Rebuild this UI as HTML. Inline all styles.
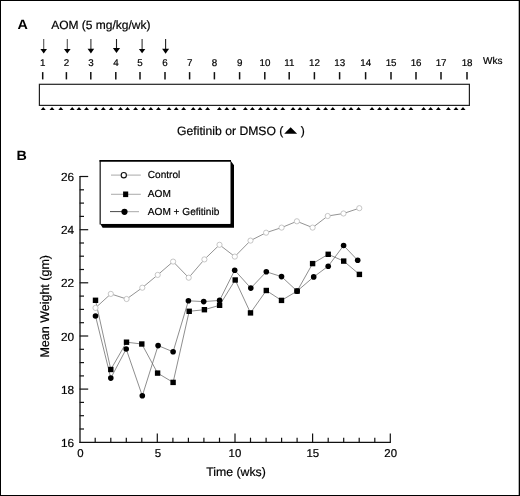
<!DOCTYPE html>
<html><head><meta charset="utf-8"><title>Figure</title>
<style>html,body{margin:0;padding:0;background:#fff;}body{width:520px;height:496px;overflow:hidden;}svg{display:block;}text{text-rendering:geometricPrecision;font-family:"Liberation Sans", Arial, sans-serif;fill:#000;stroke:#000;stroke-width:0.2px;}text.b{stroke:none;}</style>
</head><body>
<svg width="520" height="496" viewBox="0 0 520 496">
<rect x="0" y="0" width="520" height="496" fill="#fff"/>
<rect x="0.5" y="0.5" width="519" height="495" fill="none" stroke="#000" stroke-width="1"/>
<line x1="519.35" y1="0" x2="519.35" y2="496" stroke="#000" stroke-width="1.3"/>
<text transform="translate(17.5,28.9) scale(1.06,1)" class="b" font-size="13.5" font-weight="bold">A</text>
<text x="51.2" y="28.7" font-size="12">AOM (5 mg/kg/wk)</text>
<line x1="43.7" y1="39.0" x2="43.7" y2="49.4" stroke="#555" stroke-width="1.1"/>
<polygon points="40.4,48.9 47.0,48.9 43.7,53.4" fill="#000"/>
<line x1="67.3" y1="39.0" x2="67.3" y2="49.4" stroke="#555" stroke-width="1.1"/>
<polygon points="64.0,48.9 70.6,48.9 67.3,53.4" fill="#000"/>
<line x1="90.9" y1="39.0" x2="90.9" y2="49.3" stroke="#333" stroke-width="1.1"/>
<polygon points="87.6,48.8 94.2,48.8 90.9,53.4" fill="#000"/>
<line x1="116.5" y1="39.0" x2="116.5" y2="48.6" stroke="#222" stroke-width="1.1"/>
<polygon points="112.9,48.1 120.1,48.1 116.5,53.0" fill="#000"/>
<line x1="142.1" y1="39.0" x2="142.1" y2="49.4" stroke="#333" stroke-width="1.1"/>
<polygon points="138.9,48.9 145.3,48.9 142.1,53.3" fill="#000"/>
<line x1="165.6" y1="39.0" x2="165.6" y2="49.3" stroke="#222" stroke-width="1.1"/>
<polygon points="162.1,48.8 169.1,48.8 165.6,53.7" fill="#000"/>
<line x1="42.7" y1="72.1" x2="42.7" y2="79.4" stroke="#111" stroke-width="1.5"/>
<text x="42.8" y="65.9" font-size="9.8" text-anchor="middle">1</text>
<line x1="66.4" y1="72.1" x2="66.4" y2="79.4" stroke="#111" stroke-width="1.5"/>
<text x="66.5" y="65.9" font-size="9.8" text-anchor="middle">2</text>
<line x1="90.8" y1="72.1" x2="90.8" y2="79.4" stroke="#111" stroke-width="1.5"/>
<text x="90.9" y="65.9" font-size="9.8" text-anchor="middle">3</text>
<line x1="115.8" y1="72.1" x2="115.8" y2="79.4" stroke="#111" stroke-width="1.5"/>
<text x="115.9" y="65.9" font-size="9.8" text-anchor="middle">4</text>
<line x1="140.0" y1="72.1" x2="140.0" y2="79.4" stroke="#111" stroke-width="1.5"/>
<text x="140.1" y="65.9" font-size="9.8" text-anchor="middle">5</text>
<line x1="165.0" y1="72.1" x2="165.0" y2="79.4" stroke="#111" stroke-width="1.5"/>
<text x="165.1" y="65.9" font-size="9.8" text-anchor="middle">6</text>
<line x1="189.6" y1="72.1" x2="189.6" y2="79.4" stroke="#111" stroke-width="1.5"/>
<text x="189.7" y="65.9" font-size="9.8" text-anchor="middle">7</text>
<line x1="214.4" y1="72.1" x2="214.4" y2="79.4" stroke="#111" stroke-width="1.5"/>
<text x="214.5" y="65.9" font-size="9.8" text-anchor="middle">8</text>
<line x1="239.6" y1="72.1" x2="239.6" y2="79.4" stroke="#111" stroke-width="1.5"/>
<text x="239.7" y="65.9" font-size="9.8" text-anchor="middle">9</text>
<line x1="264.8" y1="72.1" x2="264.8" y2="79.4" stroke="#111" stroke-width="1.5"/>
<text x="264.9" y="65.9" font-size="9.8" text-anchor="middle">10</text>
<line x1="289.2" y1="72.1" x2="289.2" y2="79.4" stroke="#111" stroke-width="1.5"/>
<text x="289.3" y="65.9" font-size="9.8" text-anchor="middle">11</text>
<line x1="314.4" y1="72.1" x2="314.4" y2="79.4" stroke="#111" stroke-width="1.5"/>
<text x="314.5" y="65.9" font-size="9.8" text-anchor="middle">12</text>
<line x1="339.6" y1="72.1" x2="339.6" y2="79.4" stroke="#111" stroke-width="1.5"/>
<text x="339.7" y="65.9" font-size="9.8" text-anchor="middle">13</text>
<line x1="365.6" y1="72.1" x2="365.6" y2="79.4" stroke="#111" stroke-width="1.5"/>
<text x="365.7" y="65.9" font-size="9.8" text-anchor="middle">14</text>
<line x1="391.0" y1="72.1" x2="391.0" y2="79.4" stroke="#111" stroke-width="1.5"/>
<text x="391.1" y="65.9" font-size="9.8" text-anchor="middle">15</text>
<line x1="416.0" y1="72.1" x2="416.0" y2="79.4" stroke="#111" stroke-width="1.5"/>
<text x="416.1" y="65.9" font-size="9.8" text-anchor="middle">16</text>
<line x1="441.0" y1="72.1" x2="441.0" y2="79.4" stroke="#111" stroke-width="1.5"/>
<text x="441.1" y="65.9" font-size="9.8" text-anchor="middle">17</text>
<line x1="467.0" y1="72.1" x2="467.0" y2="79.4" stroke="#111" stroke-width="1.5"/>
<text x="467.1" y="65.9" font-size="9.8" text-anchor="middle">18</text>
<text x="483" y="63.7" font-size="10">Wks</text>
<rect x="39.4" y="84.3" width="430" height="21.1" fill="#fff" stroke="#222" stroke-width="1.2"/>
<polygon points="40.7,110 45.7,110 43.2,107" fill="#000"/>
<polygon points="49.5,110 54.5,110 52.0,107" fill="#000"/>
<polygon points="58.3,110 63.3,110 60.8,107" fill="#000"/>
<polygon points="69.7,110 74.7,110 72.2,107" fill="#000"/>
<polygon points="76.5,110 81.5,110 79.0,107" fill="#000"/>
<polygon points="84.0,110 89.0,110 86.5,107" fill="#000"/>
<polygon points="93.5,110 98.5,110 96.0,107" fill="#000"/>
<polygon points="100.8,110 105.8,110 103.3,107" fill="#000"/>
<polygon points="108.7,110 113.7,110 111.2,107" fill="#000"/>
<polygon points="118.0,110 123.0,110 120.5,107" fill="#000"/>
<polygon points="125.0,110 130.0,110 127.5,107" fill="#000"/>
<polygon points="133.1,110 138.1,110 135.6,107" fill="#000"/>
<polygon points="140.9,110 145.9,110 143.4,107" fill="#000"/>
<polygon points="148.3,110 153.3,110 150.8,107" fill="#000"/>
<polygon points="156.0,110 161.0,110 158.5,107" fill="#000"/>
<polygon points="166.5,110 171.5,110 169.0,107" fill="#000"/>
<polygon points="173.7,110 178.7,110 176.2,107" fill="#000"/>
<polygon points="181.1,110 186.1,110 183.6,107" fill="#000"/>
<polygon points="190.7,110 195.7,110 193.2,107" fill="#000"/>
<polygon points="197.5,110 202.5,110 200.0,107" fill="#000"/>
<polygon points="205.1,110 210.1,110 207.6,107" fill="#000"/>
<polygon points="216.9,110 221.9,110 219.4,107" fill="#000"/>
<polygon points="224.3,110 229.3,110 226.8,107" fill="#000"/>
<polygon points="231.5,110 236.5,110 234.0,107" fill="#000"/>
<polygon points="242.9,110 247.9,110 245.4,107" fill="#000"/>
<polygon points="249.9,110 254.9,110 252.4,107" fill="#000"/>
<polygon points="257.9,110 262.9,110 260.4,107" fill="#000"/>
<polygon points="265.5,110 270.5,110 268.0,107" fill="#000"/>
<polygon points="272.9,110 277.9,110 275.4,107" fill="#000"/>
<polygon points="280.3,110 285.3,110 282.8,107" fill="#000"/>
<polygon points="290.5,110 295.5,110 293.0,107" fill="#000"/>
<polygon points="297.5,110 302.5,110 300.0,107" fill="#000"/>
<polygon points="305.3,110 310.3,110 307.8,107" fill="#000"/>
<polygon points="315.7,110 320.7,110 318.2,107" fill="#000"/>
<polygon points="323.1,110 328.1,110 325.6,107" fill="#000"/>
<polygon points="330.3,110 335.3,110 332.8,107" fill="#000"/>
<polygon points="341.5,110 346.5,110 344.0,107" fill="#000"/>
<polygon points="348.5,110 353.5,110 351.0,107" fill="#000"/>
<polygon points="356.1,110 361.1,110 358.6,107" fill="#000"/>
<polygon points="369.5,110 374.5,110 372.0,107" fill="#000"/>
<polygon points="377.1,110 382.1,110 379.6,107" fill="#000"/>
<polygon points="384.9,110 389.9,110 387.4,107" fill="#000"/>
<polygon points="393.5,110 398.5,110 396.0,107" fill="#000"/>
<polygon points="400.5,110 405.5,110 403.0,107" fill="#000"/>
<polygon points="408.4,110 413.4,110 410.9,107" fill="#000"/>
<polygon points="421.1,110 426.1,110 423.6,107" fill="#000"/>
<polygon points="428.1,110 433.1,110 430.6,107" fill="#000"/>
<polygon points="435.9,110 440.9,110 438.4,107" fill="#000"/>
<polygon points="445.9,110 450.9,110 448.4,107" fill="#000"/>
<polygon points="453.5,110 458.5,110 456.0,107" fill="#000"/>
<polygon points="460.5,110 465.5,110 463.0,107" fill="#000"/>
<text x="177.1" y="134.8" font-size="12.2">Gefitinib or DMSO (</text>
<polygon points="284.2,133.7 297.1,133.7 290.6,127.2" fill="#000"/>
<text x="300.8" y="134.8" font-size="12.2">)</text>
<text transform="translate(16.6,160.4) scale(1.06,1)" class="b" font-size="13.5" font-weight="bold">B</text>
<line x1="80.0" y1="175.9" x2="80.0" y2="442.9" stroke="#111" stroke-width="1.3"/>
<line x1="79.4" y1="442.3" x2="390.9" y2="442.3" stroke="#111" stroke-width="1.3"/>
<text x="74.2" y="446.8" font-size="11.8" text-anchor="end">16</text>
<line x1="79.7" y1="429.0" x2="84.0" y2="429.0" stroke="#111" stroke-width="1.2"/>
<line x1="79.7" y1="415.7" x2="84.0" y2="415.7" stroke="#111" stroke-width="1.2"/>
<line x1="79.7" y1="402.4" x2="84.0" y2="402.4" stroke="#111" stroke-width="1.2"/>
<line x1="79.7" y1="389.1" x2="88.2" y2="389.1" stroke="#111" stroke-width="1.2"/>
<text x="74.2" y="393.6" font-size="11.8" text-anchor="end">18</text>
<line x1="79.7" y1="375.9" x2="84.0" y2="375.9" stroke="#111" stroke-width="1.2"/>
<line x1="79.7" y1="362.6" x2="84.0" y2="362.6" stroke="#111" stroke-width="1.2"/>
<line x1="79.7" y1="349.3" x2="84.0" y2="349.3" stroke="#111" stroke-width="1.2"/>
<line x1="79.7" y1="336.0" x2="88.2" y2="336.0" stroke="#111" stroke-width="1.2"/>
<text x="74.2" y="340.5" font-size="11.8" text-anchor="end">20</text>
<line x1="79.7" y1="322.7" x2="84.0" y2="322.7" stroke="#111" stroke-width="1.2"/>
<line x1="79.7" y1="309.4" x2="84.0" y2="309.4" stroke="#111" stroke-width="1.2"/>
<line x1="79.7" y1="296.1" x2="84.0" y2="296.1" stroke="#111" stroke-width="1.2"/>
<line x1="79.7" y1="282.8" x2="88.2" y2="282.8" stroke="#111" stroke-width="1.2"/>
<text x="74.2" y="287.3" font-size="11.8" text-anchor="end">22</text>
<line x1="79.7" y1="269.5" x2="84.0" y2="269.5" stroke="#111" stroke-width="1.2"/>
<line x1="79.7" y1="256.2" x2="84.0" y2="256.2" stroke="#111" stroke-width="1.2"/>
<line x1="79.7" y1="243.0" x2="84.0" y2="243.0" stroke="#111" stroke-width="1.2"/>
<line x1="79.7" y1="229.7" x2="88.2" y2="229.7" stroke="#111" stroke-width="1.2"/>
<text x="74.2" y="234.2" font-size="11.8" text-anchor="end">24</text>
<line x1="79.7" y1="216.4" x2="84.0" y2="216.4" stroke="#111" stroke-width="1.2"/>
<line x1="79.7" y1="203.1" x2="84.0" y2="203.1" stroke="#111" stroke-width="1.2"/>
<line x1="79.7" y1="189.8" x2="84.0" y2="189.8" stroke="#111" stroke-width="1.2"/>
<line x1="79.7" y1="176.5" x2="88.2" y2="176.5" stroke="#111" stroke-width="1.2"/>
<text x="74.2" y="181.0" font-size="11.8" text-anchor="end">26</text>
<text x="80.4" y="456.7" font-size="11.4" text-anchor="middle">0</text>
<line x1="95.2" y1="442.3" x2="95.2" y2="437.7" stroke="#111" stroke-width="1.2"/>
<line x1="110.8" y1="442.3" x2="110.8" y2="437.7" stroke="#111" stroke-width="1.2"/>
<line x1="126.3" y1="442.3" x2="126.3" y2="437.7" stroke="#111" stroke-width="1.2"/>
<line x1="141.8" y1="442.3" x2="141.8" y2="437.7" stroke="#111" stroke-width="1.2"/>
<line x1="157.3" y1="442.3" x2="157.3" y2="433.5" stroke="#111" stroke-width="1.2"/>
<text x="158.0" y="456.7" font-size="11.4" text-anchor="middle">5</text>
<line x1="172.9" y1="442.3" x2="172.9" y2="437.7" stroke="#111" stroke-width="1.2"/>
<line x1="188.4" y1="442.3" x2="188.4" y2="437.7" stroke="#111" stroke-width="1.2"/>
<line x1="203.9" y1="442.3" x2="203.9" y2="437.7" stroke="#111" stroke-width="1.2"/>
<line x1="219.5" y1="442.3" x2="219.5" y2="437.7" stroke="#111" stroke-width="1.2"/>
<line x1="235.0" y1="442.3" x2="235.0" y2="433.5" stroke="#111" stroke-width="1.2"/>
<text x="234.9" y="456.7" font-size="11.4" text-anchor="middle">10</text>
<line x1="250.5" y1="442.3" x2="250.5" y2="437.7" stroke="#111" stroke-width="1.2"/>
<line x1="266.1" y1="442.3" x2="266.1" y2="437.7" stroke="#111" stroke-width="1.2"/>
<line x1="281.6" y1="442.3" x2="281.6" y2="437.7" stroke="#111" stroke-width="1.2"/>
<line x1="297.1" y1="442.3" x2="297.1" y2="437.7" stroke="#111" stroke-width="1.2"/>
<line x1="312.6" y1="442.3" x2="312.6" y2="433.5" stroke="#111" stroke-width="1.2"/>
<text x="312.8" y="456.7" font-size="11.4" text-anchor="middle">15</text>
<line x1="328.2" y1="442.3" x2="328.2" y2="437.7" stroke="#111" stroke-width="1.2"/>
<line x1="343.7" y1="442.3" x2="343.7" y2="437.7" stroke="#111" stroke-width="1.2"/>
<line x1="359.2" y1="442.3" x2="359.2" y2="437.7" stroke="#111" stroke-width="1.2"/>
<line x1="374.8" y1="442.3" x2="374.8" y2="437.7" stroke="#111" stroke-width="1.2"/>
<line x1="390.3" y1="442.3" x2="390.3" y2="433.5" stroke="#111" stroke-width="1.2"/>
<text x="390.7" y="456.7" font-size="11.4" text-anchor="middle">20</text>
<text x="206.2" y="475.8" font-size="12.3">Time (wks)</text>
<text transform="translate(48.5,357.6) rotate(-90)" font-size="12.5">Mean Weight (gm)</text>
<polyline fill="none" stroke="#808080" stroke-width="0.85" points="95.5,307.9 110.8,293.9 126.6,299.0 142.3,287.7 157.7,274.9 173.1,261.6 188.7,277.7 204.4,259.4 219.5,244.8 234.8,256.6 250.5,240.6 266.1,232.7 281.6,227.6 296.9,221.3 312.6,227.6 327.7,216.0 343.5,213.5 359.3,208.2"/>
<polyline fill="none" stroke="#686868" stroke-width="0.75" points="95.5,316.0 110.8,378.1 126.2,349.0 142.3,395.8 158.1,345.6 173.1,351.8 188.4,300.8 203.7,301.6 219.6,300.4 234.7,270.2 250.8,288.1 266.3,271.8 281.5,276.6 297.1,291.1 313.7,276.9 328.2,266.2 343.6,245.5 357.7,260.3"/>
<polyline fill="none" stroke="#686868" stroke-width="0.75" points="95.5,300.3 110.8,369.5 126.5,342.2 141.8,344.0 157.6,373.1 173.1,382.4 189.2,311.3 204.4,309.7 219.6,305.3 235.2,280.0 250.5,312.9 266.3,290.5 281.5,300.4 297.1,291.1 312.6,263.6 328.2,254.3 343.7,261.1 359.4,274.4"/>
<circle cx="95.5" cy="307.9" r="2.6" fill="#fff" stroke="#bcbcbc" stroke-width="0.85"/>
<circle cx="110.8" cy="293.9" r="2.6" fill="#fff" stroke="#bcbcbc" stroke-width="0.85"/>
<circle cx="126.6" cy="299.0" r="2.6" fill="#fff" stroke="#bcbcbc" stroke-width="0.85"/>
<circle cx="142.3" cy="287.7" r="2.6" fill="#fff" stroke="#bcbcbc" stroke-width="0.85"/>
<circle cx="157.7" cy="274.9" r="2.6" fill="#fff" stroke="#bcbcbc" stroke-width="0.85"/>
<circle cx="173.1" cy="261.6" r="2.6" fill="#fff" stroke="#bcbcbc" stroke-width="0.85"/>
<circle cx="188.7" cy="277.7" r="2.6" fill="#fff" stroke="#bcbcbc" stroke-width="0.85"/>
<circle cx="204.4" cy="259.4" r="2.6" fill="#fff" stroke="#bcbcbc" stroke-width="0.85"/>
<circle cx="219.5" cy="244.8" r="2.6" fill="#fff" stroke="#bcbcbc" stroke-width="0.85"/>
<circle cx="234.8" cy="256.6" r="2.6" fill="#fff" stroke="#bcbcbc" stroke-width="0.85"/>
<circle cx="250.5" cy="240.6" r="2.6" fill="#fff" stroke="#bcbcbc" stroke-width="0.85"/>
<circle cx="266.1" cy="232.7" r="2.6" fill="#fff" stroke="#bcbcbc" stroke-width="0.85"/>
<circle cx="281.6" cy="227.6" r="2.6" fill="#fff" stroke="#bcbcbc" stroke-width="0.85"/>
<circle cx="296.9" cy="221.3" r="2.6" fill="#fff" stroke="#bcbcbc" stroke-width="0.85"/>
<circle cx="312.6" cy="227.6" r="2.6" fill="#fff" stroke="#bcbcbc" stroke-width="0.85"/>
<circle cx="327.7" cy="216.0" r="2.6" fill="#fff" stroke="#bcbcbc" stroke-width="0.85"/>
<circle cx="343.5" cy="213.5" r="2.6" fill="#fff" stroke="#bcbcbc" stroke-width="0.85"/>
<circle cx="359.3" cy="208.2" r="2.6" fill="#fff" stroke="#bcbcbc" stroke-width="0.85"/>
<circle cx="95.5" cy="316.0" r="2.8" fill="#000"/>
<circle cx="110.8" cy="378.1" r="2.8" fill="#000"/>
<circle cx="126.2" cy="349.0" r="2.8" fill="#000"/>
<circle cx="142.3" cy="395.8" r="2.8" fill="#000"/>
<circle cx="158.1" cy="345.6" r="2.8" fill="#000"/>
<circle cx="173.1" cy="351.8" r="2.8" fill="#000"/>
<circle cx="188.4" cy="300.8" r="2.8" fill="#000"/>
<circle cx="203.7" cy="301.6" r="2.8" fill="#000"/>
<circle cx="219.6" cy="300.4" r="2.8" fill="#000"/>
<circle cx="234.7" cy="270.2" r="2.8" fill="#000"/>
<circle cx="250.8" cy="288.1" r="2.8" fill="#000"/>
<circle cx="266.3" cy="271.8" r="2.8" fill="#000"/>
<circle cx="281.5" cy="276.6" r="2.8" fill="#000"/>
<circle cx="297.1" cy="291.1" r="2.8" fill="#000"/>
<circle cx="313.7" cy="276.9" r="2.8" fill="#000"/>
<circle cx="328.2" cy="266.2" r="2.8" fill="#000"/>
<circle cx="343.6" cy="245.5" r="2.8" fill="#000"/>
<circle cx="357.7" cy="260.3" r="2.8" fill="#000"/>
<rect x="92.8" y="297.6" width="5.4" height="5.4" fill="#000"/>
<rect x="108.1" y="366.8" width="5.4" height="5.4" fill="#000"/>
<rect x="123.8" y="339.5" width="5.4" height="5.4" fill="#000"/>
<rect x="139.1" y="341.3" width="5.4" height="5.4" fill="#000"/>
<rect x="154.9" y="370.4" width="5.4" height="5.4" fill="#000"/>
<rect x="170.4" y="379.7" width="5.4" height="5.4" fill="#000"/>
<rect x="186.5" y="308.6" width="5.4" height="5.4" fill="#000"/>
<rect x="201.7" y="307.0" width="5.4" height="5.4" fill="#000"/>
<rect x="216.9" y="302.6" width="5.4" height="5.4" fill="#000"/>
<rect x="232.5" y="277.3" width="5.4" height="5.4" fill="#000"/>
<rect x="247.8" y="310.2" width="5.4" height="5.4" fill="#000"/>
<rect x="263.6" y="287.8" width="5.4" height="5.4" fill="#000"/>
<rect x="278.8" y="297.7" width="5.4" height="5.4" fill="#000"/>
<rect x="294.4" y="288.4" width="5.4" height="5.4" fill="#000"/>
<rect x="309.9" y="260.9" width="5.4" height="5.4" fill="#000"/>
<rect x="325.5" y="251.6" width="5.4" height="5.4" fill="#000"/>
<rect x="341.0" y="258.4" width="5.4" height="5.4" fill="#000"/>
<rect x="356.7" y="271.7" width="5.4" height="5.4" fill="#000"/>
<polygon points="100.2,223.8 102.6,227.8 234,227.8 234,165.3 230.3,160.2 230.3,223.8" fill="#000"/>
<rect x="100.2" y="161" width="130.1" height="62.8" fill="#fff"/>
<line x1="100.2" y1="224.6" x2="100.2" y2="160.2" stroke="#333" stroke-width="1.4"/><line x1="99.5" y1="160.9" x2="231" y2="160.9" stroke="#000" stroke-width="1.7"/>
<line x1="111" y1="175.1" x2="140.8" y2="175.1" stroke="#b0b0b0" stroke-width="1.1"/>
<ellipse cx="123.8" cy="175.2" rx="2.6" ry="2.7" fill="#fff" stroke="#111" stroke-width="1.1"/>
<line x1="111" y1="194.3" x2="140.8" y2="194.3" stroke="#b0b0b0" stroke-width="1.1"/>
<rect x="123.1" y="191.5" width="5.1" height="5.6" fill="#000"/>
<line x1="110" y1="211.6" x2="124" y2="211.6" stroke="#333" stroke-width="0.9"/>
<line x1="124" y1="211.7" x2="139" y2="211.7" stroke="#909090" stroke-width="0.8"/>
<circle cx="124.5" cy="211.8" r="3.1" fill="#000"/>
<text x="147.8" y="178" font-size="10.1">Control</text>
<text x="147.8" y="197.4" font-size="10.1">AOM</text>
<text x="147.8" y="214.8" font-size="10.1">AOM + Gefitinib</text>
</svg>
</body></html>
